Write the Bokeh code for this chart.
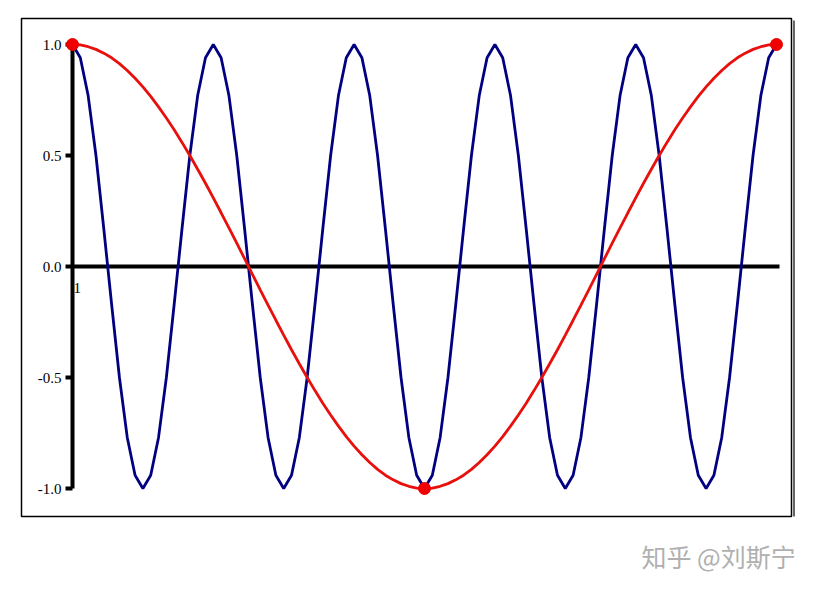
from bokeh.plotting import figure
from bokeh.core.properties import value
from bokeh.embed import file_html
from bokeh.resources import INLINE

# sample index (1..91)
xs = list(range(1, 92))

# fast curve, 5 periods
blue = [1.0, 0.94, 0.77, 0.5, 0.17, -0.17, -0.5, -0.77, -0.94, -1.0, -0.94, -0.77, -0.5, -0.17, 0.17, 0.5, 0.77, 0.94,
        1.0, 0.94, 0.77, 0.5, 0.17, -0.17, -0.5, -0.77, -0.94, -1.0, -0.94, -0.77, -0.5, -0.17, 0.17, 0.5, 0.77, 0.94,
        1.0, 0.94, 0.77, 0.5, 0.17, -0.17, -0.5, -0.77, -0.94, -1.0, -0.94, -0.77, -0.5, -0.17, 0.17, 0.5, 0.77, 0.94,
        1.0, 0.94, 0.77, 0.5, 0.17, -0.17, -0.5, -0.77, -0.94, -1.0, -0.94, -0.77, -0.5, -0.17, 0.17, 0.5, 0.77, 0.94,
        1.0, 0.94, 0.77, 0.5, 0.17, -0.17, -0.5, -0.77, -0.94, -1.0, -0.94, -0.77, -0.5, -0.17, 0.17, 0.5, 0.77, 0.94,
        1.0]

# slow curve, 1 period
red = [1.0, 0.998, 0.99, 0.978, 0.961, 0.94, 0.914, 0.883, 0.848, 0.809,
       0.766, 0.719, 0.669, 0.616, 0.559, 0.5, 0.438, 0.375, 0.309, 0.242,
       0.174, 0.105, 0.035, -0.035, -0.105, -0.174, -0.242, -0.309, -0.375, -0.438,
       -0.5, -0.559, -0.616, -0.669, -0.719, -0.766, -0.809, -0.848, -0.883, -0.914,
       -0.94, -0.961, -0.978, -0.99, -0.998, -1.0, -0.998, -0.99, -0.978, -0.961,
       -0.94, -0.914, -0.883, -0.848, -0.809, -0.766, -0.719, -0.669, -0.616, -0.559,
       -0.5, -0.438, -0.375, -0.309, -0.242, -0.174, -0.105, -0.035, 0.035, 0.105,
       0.174, 0.242, 0.309, 0.375, 0.438, 0.5, 0.559, 0.616, 0.669, 0.719,
       0.766, 0.809, 0.848, 0.883, 0.914, 0.94, 0.961, 0.978, 0.99, 0.998,
       1.0]

dot_x = [1, 46, 91]
dot_y = [1.0, -1.0, 1.0]

y_ticks = [1.0, 0.5, 0.0, -0.5, -1.0]
y_labels = ["1.0", "0.5", "0.0", "-0.5", "-1.0"]
x_ticks = [1]
x_labels = ["1"]
watermark = "知乎 @刘斯宁"

W, H = 812, 586
ux = 90 / 704.0   # data units per pixel, x
uy = 2 / 444.0    # data units per pixel, y
xlo = 1 - 72 * ux
xhi = xlo + W * ux
yhi = 1 + 44 * uy
ylo = yhi - H * uy


def px(x):
    return xlo + x * ux


def py(y):
    return yhi - y * uy


p = figure(width=W, height=H, x_range=(xlo, xhi), y_range=(ylo, yhi),
           x_axis_type=None, y_axis_type=None,
           toolbar_location=None, output_backend="svg", min_border=0)
p.outline_line_color = None
p.background_fill_color = "white"
p.border_fill_color = "white"

# chart box with a thin shadow line on the right
p.quad(left=[px(21)], right=[px(791)], top=[py(18)], bottom=[py(516)],
       fill_color=None, line_color="black", line_width=1.5)
p.segment(x0=[px(793.5)], y0=[py(20)], x1=[px(793.5)], y1=[py(516)],
          line_color="black", line_width=1.2)

serif = value("Liberation Serif")

# y axis drawn by hand at the first sample
p.segment(x0=[xs[0]], y0=[min(y_ticks)], x1=[xs[0]], y1=[max(y_ticks)],
          line_color="black", line_width=4)
p.segment(x0=[xs[0] - 7 * ux] * len(y_ticks), y0=y_ticks, x1=[xs[0]] * len(y_ticks), y1=y_ticks,
          line_color="black", line_width=4)
p.text(x=[xs[0]] * len(y_ticks), y=y_ticks, text=y_labels, x_offset=-11,
       text_align="right", text_baseline="middle", text_font=serif,
       text_font_size="15px", text_color="black")

# x axis at y = 0
p.segment(x0=[xs[0]], y0=[0], x1=[xs[-1] + 3 * ux], y1=[0], line_color="black", line_width=4)
p.text(x=x_ticks, y=[0] * len(x_ticks), text=x_labels, x_offset=1, y_offset=16,
       text_align="left", text_baseline="top", text_font=serif,
       text_font_size="15px", text_color="black")

p.line(xs, blue, line_color="#000080", line_width=2.8)
p.line(xs, red, line_color="#e8100c", line_width=2.8)
p.scatter(dot_x, dot_y, size=12, fill_color="#f00000", line_color="#f00000")

p.text(x=[px(641)], y=[py(555)], text=[watermark], text_font=value("Noto Sans CJK SC"),
       text_font_size="25px", text_color="#b0b0b0", text_baseline="middle", text_align="left")

open("out.html", "w").write(file_html(p, INLINE))
